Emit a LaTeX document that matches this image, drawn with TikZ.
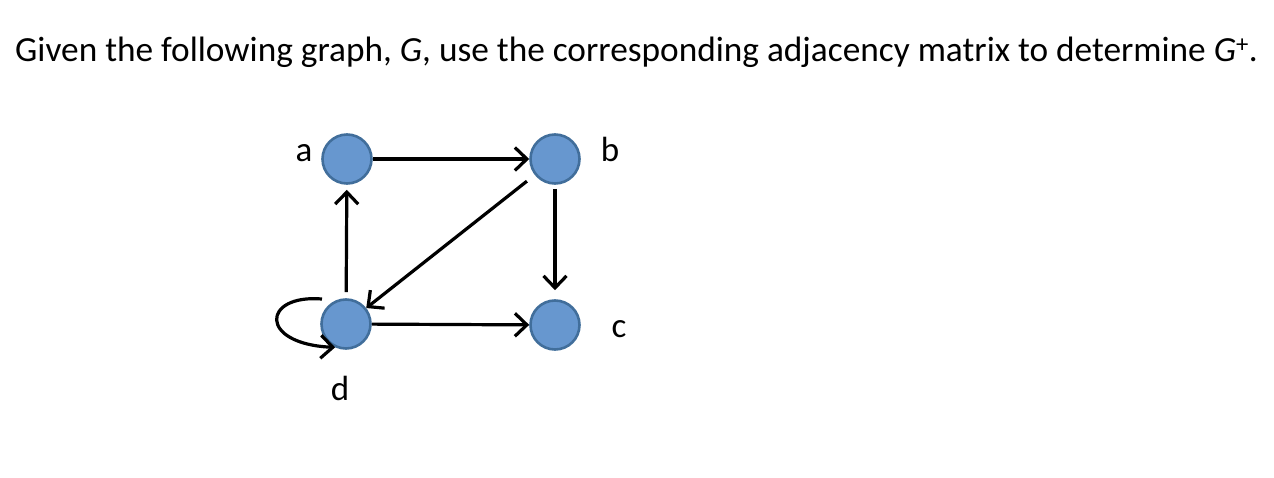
\documentclass[tikz,border=0pt]{standalone}
\usepackage{fontspec}
\setmainfont{Carlito}
\usetikzlibrary{arrows.meta}
\definecolor{nodefill}{RGB}{103,151,207}
\definecolor{nodeline}{RGB}{65,110,155}
\begin{document}
\begin{tikzpicture}[x=1pt,y=-1pt,
  vertex/.style={circle,fill=nodefill,draw=nodeline,line width=2.6pt,minimum size=49pt,inner sep=0pt},
  lbl/.style={font=\fontsize{35}{40}\selectfont,anchor=base,inner sep=0pt},
  edge/.style={line width=3.2pt,-{Straight Barb[length=12pt,width=23pt,line width=3.2pt]}}]
\useasboundingbox (0,0) rectangle (1274,478);
\node[anchor=base west,inner sep=0pt,font=\fontsize{35.3}{40}\selectfont] (title) at (15,62)
  {Given the following graph, \textit{G}, use the corresponding adjacency matrix to determine \textit{G}\textsuperscript{+}.};
\node[vertex] (a) at (347,159) {};
\node[vertex] (b) at (555,159) {};
\node[vertex] (c) at (555,325) {};
\node[vertex] (d) at (346,324) {};
\node[lbl] (la) at (304,162) {a};
\node[lbl] (lb) at (610,162) {b};
\node[lbl] (lc) at (619,337) {c};
\node[lbl] (ld) at (340,400) {d};
\draw[edge] (a) -- (b);
\draw[edge,shorten <=4pt,shorten >=9pt] (b) -- (c);
\draw[edge,shorten <=6pt,shorten >=5pt] (d) -- (a);
\draw[edge,shorten <=10pt] (b) -- (d);
\draw[edge] (d) -- (c);
\draw[edge] ([shift={(-24,-25)}]d.center) .. controls ([shift={(-84,-30)}]d.center) and ([shift={(-88,20)}]d.center) .. (d.245);
\end{tikzpicture}
\end{document}
